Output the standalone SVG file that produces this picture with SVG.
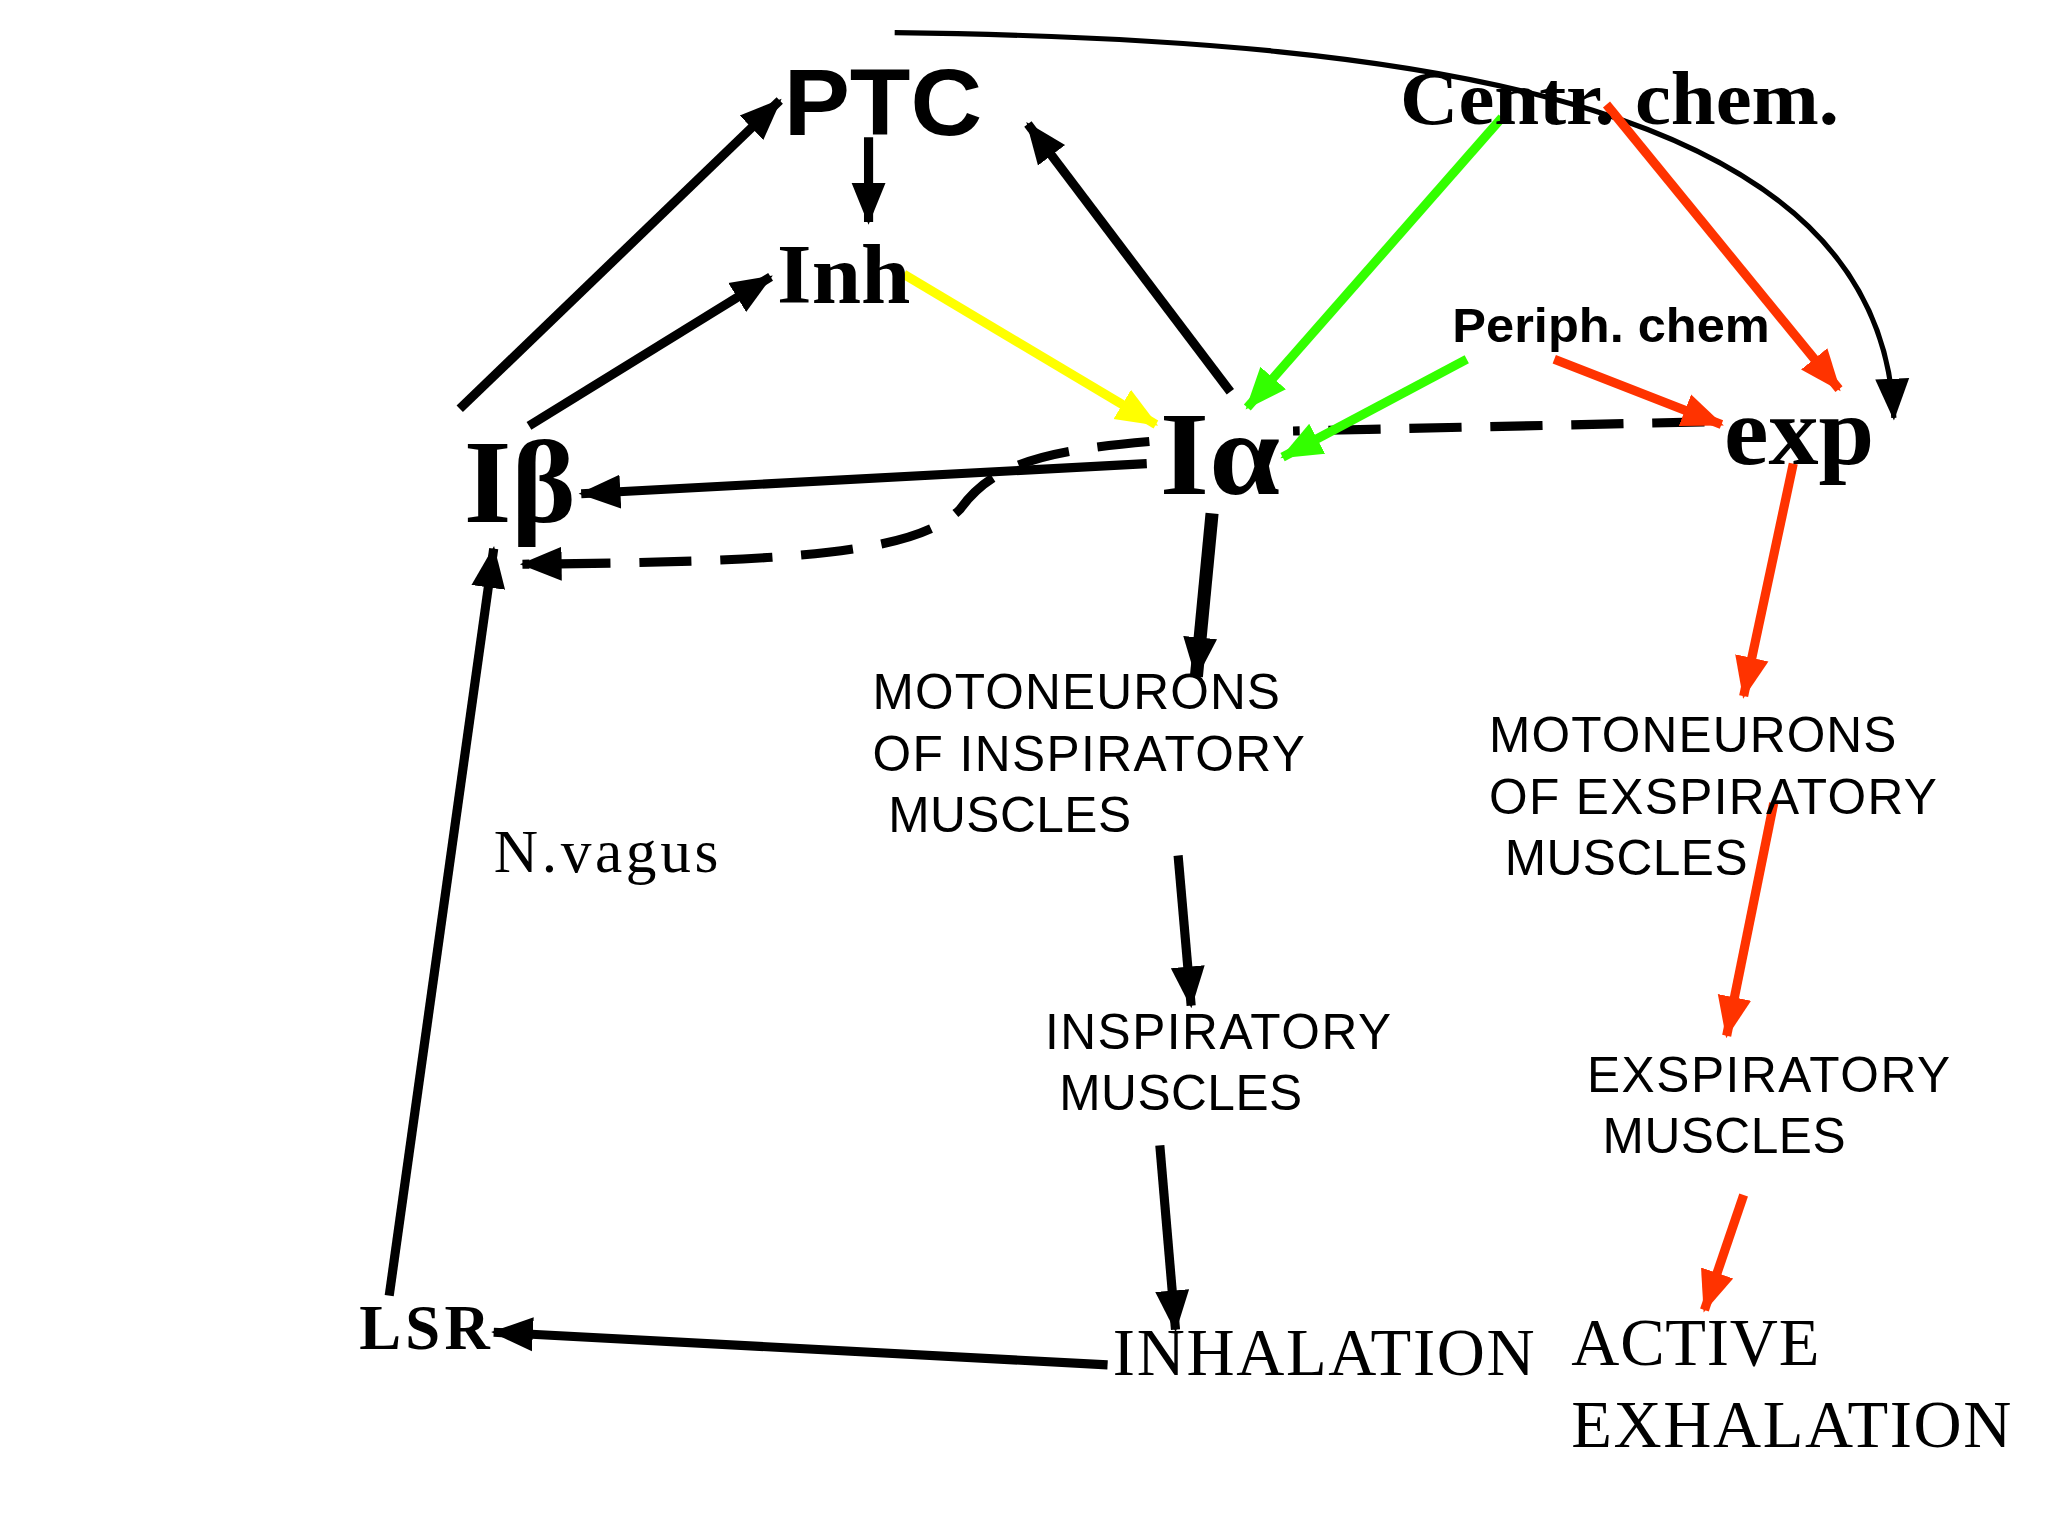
<svg xmlns="http://www.w3.org/2000/svg" width="2048" height="1536" viewBox="0 0 2048 1536">
<style>
.bs{font-family:"Liberation Serif",serif;font-weight:bold}
.s{font-family:"Liberation Sans",sans-serif}
.sr{font-family:"Liberation Serif",serif}
.k{stroke:#000;fill:none}
</style>
<defs>
<marker id="ak" markerUnits="userSpaceOnUse" markerWidth="36" markerHeight="30" refX="30" refY="15" orient="auto"><path d="M0,2 L32,15 L0,28 Z" fill="#000"/></marker>
<marker id="ag" markerUnits="userSpaceOnUse" markerWidth="36" markerHeight="30" refX="30" refY="15" orient="auto"><path d="M0,2 L32,15 L0,28 Z" fill="#33ff00"/></marker>
<marker id="ay" markerUnits="userSpaceOnUse" markerWidth="36" markerHeight="30" refX="30" refY="15" orient="auto"><path d="M0,2 L32,15 L0,28 Z" fill="#ffff00"/></marker>
<marker id="ar" markerUnits="userSpaceOnUse" markerWidth="36" markerHeight="30" refX="30" refY="15" orient="auto"><path d="M0,2 L32,15 L0,28 Z" fill="#ff3300"/></marker>
</defs>
<rect width="2048" height="1536" fill="#fff"/>
<g transform="scale(1.3061)">
<g id="connectors" stroke-linecap="butt">
<path class="k" stroke-width="4" d="M685,25 C1100,30 1440,80 1450,320" marker-end="url(#ak)"/>
<g class="k" stroke-width="7">
<line x1="352" y1="313" x2="597" y2="77" marker-end="url(#ak)"/>
<line x1="405" y1="326" x2="590" y2="212" marker-end="url(#ak)"/>
<line x1="665" y1="105" x2="665" y2="170" marker-end="url(#ak)"/>
<line x1="942" y1="300" x2="787" y2="95" marker-end="url(#ak)"/>
<line x1="878" y1="355" x2="445" y2="378" marker-end="url(#ak)"/>
<line x1="928" y1="393" x2="916" y2="518" stroke-width="10" marker-end="url(#ak)"/>
<line x1="902" y1="655" x2="912" y2="770" marker-end="url(#ak)"/>
<line x1="888" y1="877" x2="900" y2="1018" marker-end="url(#ak)"/>
<line x1="848" y1="1045" x2="378" y2="1020" marker-end="url(#ak)"/>
<line x1="298" y1="992" x2="378" y2="420" marker-end="url(#ak)"/>
<path d="M1305,323 L990,330" stroke-dasharray="40,22"/>
<path d="M880,338 C800,345 760,355 735,390 C700,425 600,430 400,432" stroke-dasharray="40,22" marker-end="url(#ak)"/>
</g>
<g fill="none" stroke-width="7">
<line x1="1150" y1="90" x2="955" y2="312" stroke="#33ff00" marker-end="url(#ag)"/>
<line x1="1123" y1="275" x2="982" y2="350" stroke="#33ff00" marker-end="url(#ag)"/>
<line x1="692" y1="210" x2="885" y2="325" stroke="#ffff00" marker-end="url(#ay)"/>
<line x1="1230" y1="80" x2="1408" y2="298" stroke="#ff3300" marker-end="url(#ar)"/>
<line x1="1190" y1="275" x2="1318" y2="325" stroke="#ff3300" marker-end="url(#ar)"/>
<line x1="1373" y1="355" x2="1335" y2="533" stroke="#ff3300" marker-end="url(#ar)"/>
<line x1="1358" y1="615" x2="1322" y2="793" stroke="#ff3300" marker-end="url(#ar)"/>
<line x1="1335" y1="915" x2="1305" y2="1003" stroke="#ff3300" marker-end="url(#ar)"/>
</g>
</g>
<g id="ptc"><text x="600" y="103" class="s" font-weight="bold" font-size="72" textLength="152" lengthAdjust="spacingAndGlyphs">PTC</text></g>
<g id="inh"><text x="595" y="232" class="bs" font-size="64" textLength="102" lengthAdjust="spacingAndGlyphs">Inh</text></g>
<g id="centr"><text x="1072" y="95" class="bs" font-size="58" textLength="336" lengthAdjust="spacingAndGlyphs">Centr. chem.</text></g>
<g id="periph"><text x="1112" y="262" class="s" font-weight="bold" font-size="37" textLength="243" lengthAdjust="spacingAndGlyphs">Periph. chem</text></g>
<g id="ia"><text x="888" y="378" class="bs" font-size="90" textLength="92" lengthAdjust="spacingAndGlyphs">Iα</text></g>
<g id="ib"><text x="355" y="400" class="bs" font-size="90" textLength="86" lengthAdjust="spacingAndGlyphs">Iβ</text></g>
<g id="exp"><text x="1320" y="355" class="bs" font-size="74" textLength="115" lengthAdjust="spacingAndGlyphs">exp</text></g>
<g id="moti" class="s" font-size="38"><text x="668" y="543" textLength="312">MOTONEURONS</text><text x="668" y="590" textLength="331">OF INSPIRATORY</text><text x="680" y="637" textLength="186">MUSCLES</text></g>
<g id="mote" class="s" font-size="38"><text x="1140" y="576" textLength="312">MOTONEURONS</text><text x="1140" y="623" textLength="343">OF EXSPIRATORY</text><text x="1152" y="670" textLength="186">MUSCLES</text></g>
<g id="vagus"><text x="378" y="668" class="sr" font-size="47" textLength="172">N.vagus</text></g>
<g id="insm" class="s" font-size="38"><text x="800" y="803" textLength="265">INSPIRATORY</text><text x="811" y="850" textLength="186">MUSCLES</text></g>
<g id="exm" class="s" font-size="38"><text x="1215" y="836" textLength="278">EXSPIRATORY</text><text x="1227" y="883" textLength="186">MUSCLES</text></g>
<g id="lsr"><text x="275" y="1033" class="bs" font-size="48" textLength="100">LSR</text></g>
<g id="inhal"><text x="852" y="1053" class="sr" font-size="51" textLength="323">INHALATION</text></g>
<g id="exhal" class="sr" font-size="51"><text x="1203" y="1045" textLength="190">ACTIVE</text><text x="1203" y="1108" textLength="337">EXHALATION</text></g>
</g>
</svg>
